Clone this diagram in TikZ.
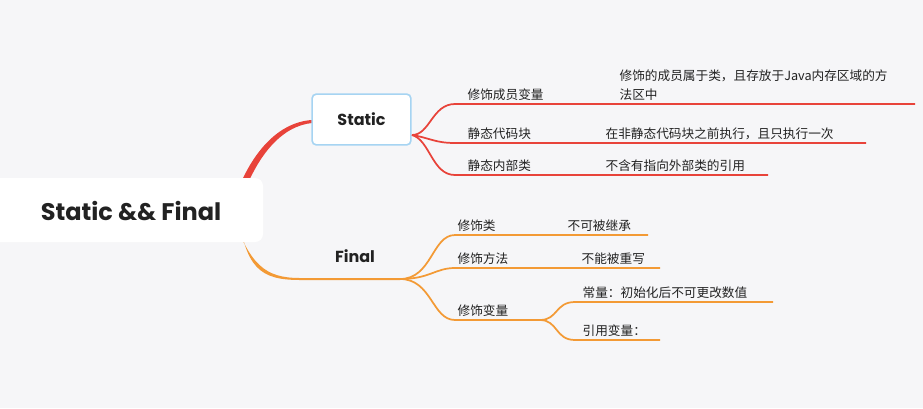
\documentclass[tikz,border=0pt]{standalone}
\usepackage{fontspec}
\setmainfont{Poppins}
\newfontfamily\cjk{Noto Sans CJK SC}
\definecolor{bg}{HTML}{F6F6F8}
\definecolor{rd}{HTML}{E8433A}
\definecolor{og}{HTML}{F39A35}
\definecolor{bl}{HTML}{A6D4F2}
\definecolor{tx}{HTML}{222222}
\tikzset{
  lbl/.style={anchor=south west,inner sep=1pt,font=\cjk\fontsize{9.5}{11}\selectfont,text=tx},
  rl/.style={rd,line width=1.3pt},
  ol/.style={og,line width=1.3pt},
}
\begin{document}
\begin{tikzpicture}[x=0.75pt,y=-0.75pt]
\useasboundingbox (0,0) rectangle (923,408);
\fill[bg] (0,0) rectangle (923,408);
\clip (0,0) rectangle (923,408);
% main branches
\fill[rd] (232,206) .. controls (250,150) and (280,122) .. (312,120) -- (312,123) .. controls (282,126) and (255,155) .. (238,210) -- cycle;
\fill[og] (232,214) .. controls (250,265) and (265,278) .. (300,278) -- (400,278) -- (400,280) -- (300,280) .. controls (260,280) and (245,268) .. (238,210) -- cycle;
% root
\fill[white,rounded corners=6pt] (-10,178) rectangle (263,242);
\node[font=\bfseries\fontsize{18}{22}\selectfont,text=tx] (rt) at (131,211) {Static \&\& Final};
\node[draw=bl,line width=1.2pt,fill=white,rounded corners=3pt,minimum width=74,minimum height=38,font=\bfseries\fontsize{12}{14}\selectfont,text=tx] (st) at (361.5,119.5) {Static};
\node[font=\bfseries\fontsize{12}{14}\selectfont,text=tx] (fi) at (355,256) {Final};
\coordinate (sa) at (412,135);
\coordinate (fa) at (400,279);
% static children
\coordinate (s1) at (455,104); \coordinate (s2) at (455,143); \coordinate (s3) at (455,175);
\draw[rl] (sa) .. controls (430,135) and (432,104) .. (s1) -- (915,104);
\draw[rl] (sa) .. controls (430,138) and (435,143) .. (s2) -- (866,143);
\draw[rl] (sa) .. controls (430,140) and (432,175) .. (s3) -- (768,175);
\node[lbl] (t1) at (466,102) {修饰成员变量};
\node[lbl] (t1b) at (618,83) {修饰的成员属于类，且存放于Java内存区域的方};
\node[lbl] (t1c) at (618,102) {法区中};
\node[lbl] (t2) at (466,141) {静态代码块};
\node[lbl] (t2b) at (604,141) {在非静态代码块之前执行，且只执行一次};
\node[lbl] (t3) at (466,173) {静态内部类};
\node[lbl] (t3b) at (604,173) {不含有指向外部类的引用};
% final children
\coordinate (f1) at (455,235); \coordinate (f2) at (455,268); \coordinate (f3) at (455,320);
\draw[ol] (fa) .. controls (432,279) and (432,235) .. (f1) -- (648,235);
\draw[ol] (fa) .. controls (430,279) and (435,268) .. (f2) -- (660,268);
\draw[ol] (fa) .. controls (432,279) and (432,320) .. (f3) -- (540,320);
\coordinate (va) at (540,320);
\draw[ol] (va) .. controls (558,320) and (555,302) .. (575,302) -- (773,302);
\draw[ol] (va) .. controls (558,320) and (555,340) .. (575,340) -- (660,340);
\node[lbl] (u1) at (456,233) {修饰类};
\node[lbl] (u1b) at (566,233) {不可被继承};
\node[lbl] (u2) at (456,266) {修饰方法};
\node[lbl] (u2b) at (580,266) {不能被重写};
\node[lbl] (u3) at (456,318) {修饰变量};
\node[lbl] (u4) at (581,300) {常量：初始化后不可更改数值};
\node[lbl] (u5) at (581,338) {引用变量：};
\end{tikzpicture}
\end{document}
